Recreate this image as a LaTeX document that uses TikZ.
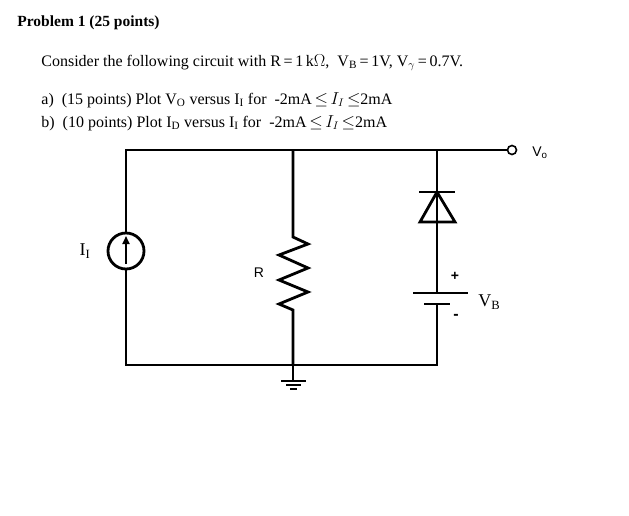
\documentclass[tikz,border=0pt]{standalone}
\usepackage{fontspec}
\setmainfont{Liberation Serif}
\newfontfamily\sans{Liberation Sans}
\usepackage{amsmath}
\usetikzlibrary{arrows.meta}
\begin{document}
\begin{tikzpicture}[x=1pt,y=-1pt,line width=2.8pt,
  txt/.style={anchor=base west,inner sep=0pt,font=\fontsize{16}{18}\selectfont},
  lab/.style={inner sep=0pt,font=\sans\fontsize{14}{16}\selectfont}]
\useasboundingbox (0,0) rectangle (629,515);
\node[txt,font=\bfseries\fontsize{15.5}{18}\selectfont] (t) at (16,26) {Problem 1 (25 points)};
\node[txt] (l1) at (40,66) {Consider the following circuit with R\,=\,1\,k$\Omega$,\ \ V\textsubscript{B}\,=\,1V, V\textsubscript{$\gamma$}\,=\,0.7V.};
\node[txt] (l2) at (40,104) {a)\ \ (15 points) Plot V\textsubscript{O} versus I\textsubscript{I} for\ \ -2mA\,$\le$\,$I_{I}$\,$\le$2mA};
\node[txt] (l3) at (40,127) {b)\ \ (10 points) Plot I\textsubscript{D} versus I\textsubscript{I} for\ \ -2mA\,$\le$\,$I_{I}$\,$\le$2mA};
% nodes
\coordinate (tl) at (126,150);
\coordinate (bl) at (126,365);
\coordinate (tr) at (437,150);
\coordinate (br) at (437,365);
\coordinate (tm) at (293,150);
\coordinate (bm) at (293,365);
\node[circle,draw,line width=2.8pt,minimum size=36pt,inner sep=0pt] (cs) at (126,251) {};
\node[circle,draw,line width=1.6pt,fill=white,minimum size=9pt,inner sep=0pt] (vo) at (512,150) {};
\node[lab,anchor=west] (volab) at (531,153) {V\textsubscript{o}};
\node[lab] (rlab) at (259,273) {R};
\node[font=\fontsize{18}{20}\selectfont,inner sep=0pt] (il) at (85,251) {I\textsubscript{I}};
\node[font=\fontsize{18}{20}\selectfont,inner sep=0pt,anchor=west] (vb) at (477,302) {V\textsubscript{B}};
\node[lab,font=\sans\bfseries\fontsize{14}{16}\selectfont] (plus) at (455,276) {+};
\node[lab,font=\sans\bfseries\fontsize{16}{16}\selectfont] (minus) at (456,317) {-};
% wires
\draw (vo.west) -- (tl) -- (cs.north);
\draw (cs.south) -- (bl) -- (br) -- (437,304);
\draw[line width=1.8pt,-{Triangle[length=8pt,width=7pt]}] (126,264) -- (126,236);
% resistor
\draw (tm) -- (293,237) -- (308,244) -- (279,255) -- (308,268) -- (279,280) -- (308,292) -- (279,304) -- (293,310) -- (bm);
% ground
\draw[line width=1.5pt] (bm) -- (293,381);
\draw[line width=1.5pt] (281,381) -- (306,381) (286,385) -- (301,385) (290,389) -- (297,389);
% diode
\draw (tr) -- (437,222);
\draw (419,192) -- (455,192);
\draw[line join=miter] (437,192) -- (420,222) -- (455,222) -- cycle;
\draw (437,222) -- (437,293);
% battery
\draw (413,293) -- (468,293);
\draw (424,304) -- (450,304);
\end{tikzpicture}
\end{document}
